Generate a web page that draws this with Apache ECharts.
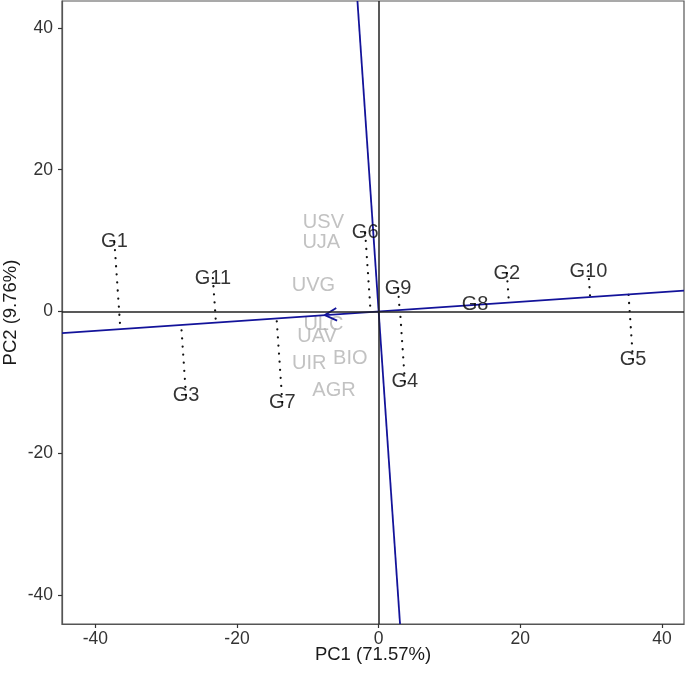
<!DOCTYPE html>
<html><head><meta charset="utf-8">
<script src="https://cdn.jsdelivr.net/npm/echarts@6/dist/echarts.min.js"></script>
<style>html,body{margin:0;padding:0;background:#fff}#c{width:685px;height:675px}</style>
</head><body><div id="c"></div>
<script>
const genotypes = ['G1','G2','G3','G4','G5','G6','G7','G8','G9','G10','G11'];
const genoPC1 = [-37.3, 18.1, -27.2, 3.7, 35.9, -1.9, -13.6, 13.6, 2.75, 29.6, -23.4];
const genoPC2 = [9.8, 5.4, -11.8, -9.9, -6.8, 11.1, -12.8, 1.0, 3.2, 5.7, 4.7];
const environments = ['USV','UJA','UVG','ULC','UAV','UIR','BIO','AGR'];
const envPC1 = [-7.8, -8.1, -9.2, -7.8, -8.7, -9.8, -4.0, -6.3];
const envPC2 = [12.5, 9.7, 3.6, -1.8, -3.6, -7.3, -6.6, -11.2];
const aecVector = [-7.6, -0.52];
const xLimits = [-44.7, 43.1];
const yLimits = [-44.1, 43.8];
const tickValues = [-40, -20, 0, 20, 40];
const xTitle = 'PC1 (71.57%)';
const yTitle = 'PC2 (9.76%)';

const FONT = '"Liberation Sans", Arial, sans-serif';
const BLUE = '#13139a';

const len = Math.hypot(aecVector[0], aecVector[1]);
const u = [aecVector[0] / len, aecVector[1] / len];
const slope = aecVector[1] / aecVector[0];

// AEC abscissa through origin, across full x range
const aecLine = [[xLimits[0], slope * xLimits[0]], [xLimits[1], slope * xLimits[1]]];
// AEC ordinate (perpendicular) across full y range
const perpLine = [[-slope * yLimits[1], yLimits[1]], [-slope * yLimits[0], yLimits[0]]];

// arrow head (open chevron) at the tip of the average-environment vector
const armLen = 1.9, ang = 28 * Math.PI / 180;
function rot(v, a) { return [v[0] * Math.cos(a) - v[1] * Math.sin(a), v[0] * Math.sin(a) + v[1] * Math.cos(a)]; }
const back = [-u[0], -u[1]];
const a1 = rot(back, ang), a2 = rot(back, -ang);
const arrowHead = [
  [aecVector[0] + a1[0] * armLen, aecVector[1] + a1[1] * armLen],
  [aecVector[0], aecVector[1]],
  [aecVector[0] + a2[0] * armLen, aecVector[1] + a2[1] * armLen]
];

// projection segments of genotypes onto the AEC abscissa
const projSegs = genotypes.map((g, i) => {
  const p = [genoPC1[i], genoPC2[i]];
  const t = p[0] * u[0] + p[1] * u[1];
  return { coords: [p, [t * u[0], t * u[1]]] };
});

const genoData = genotypes.map((g, i) => ({ name: g, value: [genoPC1[i], genoPC2[i]] }));
const envData = environments.map((e, i) => ({ name: e, value: [envPC1[i], envPC2[i]] }));

const chart = echarts.init(document.getElementById('c'), null, { renderer: 'canvas' });
chart.setOption({
  animation: false,
  backgroundColor: '#fff',
  grid: { left: 62, right: 1, top: 1, bottom: 51, containLabel: false, outerBoundsMode: 'none',
          show: true, borderColor: '#555', borderWidth: 1.2 },
  xAxis: {
    type: 'value', min: xLimits[0], max: xLimits[1],
    name: xTitle, nameLocation: 'middle', nameGap: 21.5, nameMoveOverlap: false,
    nameTextStyle: { fontFamily: FONT, fontSize: 18.5, color: '#1a1a1a' },
    splitLine: { show: false },
    axisLine: { show: true, onZero: false, lineStyle: { color: '#555', width: 1.2 } },
    axisTick: { show: true, length: 4, customValues: tickValues, lineStyle: { color: '#333', width: 1.2 } },
    axisLabel: { customValues: tickValues, fontFamily: FONT, fontSize: 17.5, color: '#333', margin: 6 }
  },
  yAxis: {
    type: 'value', min: yLimits[0], max: yLimits[1],
    name: yTitle, nameLocation: 'middle', nameGap: 42, nameMoveOverlap: false,
    nameTextStyle: { fontFamily: FONT, fontSize: 18.5, color: '#1a1a1a' },
    splitLine: { show: false },
    axisLine: { show: true, onZero: false, lineStyle: { color: '#555', width: 1.2 } },
    axisTick: { show: true, length: 4, customValues: tickValues, lineStyle: { color: '#333', width: 1.2 } },
    axisLabel: { customValues: tickValues, fontFamily: FONT, fontSize: 17.5, color: '#333', margin: 9 }
  },
  series: [
    {
      type: 'scatter', symbolSize: 0, silent: true, z: 1,
      data: envData,
      label: { show: true, position: 'inside', formatter: '{b}', fontFamily: FONT, fontSize: 20, color: '#b3b3b3' },
      markLine: {
        silent: true, symbol: ['none', 'none'], label: { show: false },
        lineStyle: { color: '#222', width: 1.5, type: 'solid' },
        data: [{ yAxis: 0 }, { xAxis: 0 }]
      }
    },
    {
      type: 'lines', coordinateSystem: 'cartesian2d', silent: true, z: 3,
      data: projSegs,
      lineStyle: { color: '#111', width: 2.2, type: [0.1, 8], cap: 'round', opacity: 1 }
    },
    {
      type: 'line', data: aecLine, symbol: 'none', silent: true, z: 4,
      lineStyle: { color: BLUE, width: 1.8 }
    },
    {
      type: 'line', data: perpLine, symbol: 'none', silent: true, z: 4,
      lineStyle: { color: BLUE, width: 1.8 }
    },
    {
      type: 'line', data: arrowHead, symbol: 'none', silent: true, z: 4,
      lineStyle: { color: BLUE, width: 1.8 }
    },
    {
      type: 'scatter', symbolSize: 0, silent: true, z: 5,
      data: genoData,
      label: { show: true, position: 'inside', formatter: '{b}', fontFamily: FONT, fontSize: 20, color: '#000' }
    }
  ]
});
</script></body></html>
